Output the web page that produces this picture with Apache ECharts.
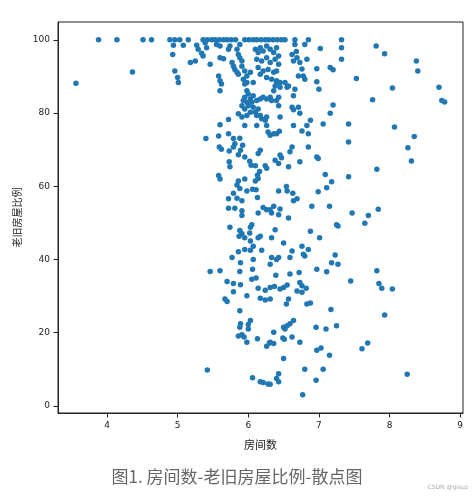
<!DOCTYPE html>
<html><head><meta charset="utf-8">
<script src="https://cdn.jsdelivr.net/npm/echarts@6/dist/echarts.min.js"></script>
<style>html,body{margin:0;padding:0;background:#fff}#c{width:474px;height:496px}</style>
</head><body><div id="c"></div><script>
const xTicks = [4, 5, 6, 7, 8, 9];
const yTicks = [0, 20, 40, 60, 80, 100];
const xRange = [3.306, 9.04];
const yRange = [-1.955, 104.855];
const xName = '房间数';
const yName = '老旧房屋比例';
const caption = '图1. 房间数-老旧房屋比例-散点图';

// [rooms, age] pairs, grouped by region of the plot
const leftOutliers = [[3.56,88.1],[3.88,100],[4.14,100],[4.36,91.2],[4.51,100],[4.63,100]];
const ageFull = [[4.89,100],[4.96,100],[5.03,100],[5.15,100],[5.36,100],[5.42,100],[5.48,100],[5.53,100],[5.59,100],[5.65,100],[5.70,100],[5.76,100],[5.82,100],[5.95,100],[6.01,100],[6.07,100],[6.12,100],[6.18,100],[6.24,100],[6.29,100],[6.35,100],[6.41,100],[6.47,100],[6.52,100],[6.66,100],[6.85,100],[7.32,100]];
const topLeft = [[4.94,98.5],[5.08,98.5],[4.93,96.0],[4.96,91.5],[5.0,89.7],[5.01,88.3],[5.18,93.8],[5.25,94.2],[5.27,98.5],[5.29,97.4],[5.34,96.3],[5.36,95.6],[5.39,99.2],[5.41,97.8],[5.46,93.3],[5.55,98.7],[5.60,98.3],[5.60,95.1],[5.65,94.8],[5.58,90.1],[5.60,88.8],[5.62,87.9],[5.60,86.1],[5.72,97.4],[5.74,98.3],[5.77,93.8],[5.79,92.8],[5.81,91.9],[5.84,91.1],[5.86,90.6],[5.84,97.4],[5.86,96.0],[5.88,95.1],[5.91,94.2],[5.88,98.7],[5.91,92.8],[5.95,91.5],[5.98,90.1],[5.93,89.2],[5.98,88.3],[5.95,87.9],[6.03,91.1]];
const topCluster = [[5.98,86.1],[6.00,85.2],[5.95,84.3],[6.03,83.8],[5.98,82.9],[6.05,82.9],[6.07,84.7],[5.93,83.4],[6.00,82.0],[6.07,81.6],[5.95,81.1],[6.12,83.4],[6.03,80.2],[6.10,80.2],[6.14,81.1],[5.91,82.0],[6.26,83.8],[6.31,84.3],[6.40,83.4],[6.43,82.0],[5.86,79.8],[5.91,78.9],[5.98,79.3],[6.12,79.3],[6.19,78.4],[6.24,78.0],[5.60,76.8],[5.72,78.2],[5.95,76.6],[6.12,76.6],[6.26,76.6],[6.45,78.9],[6.10,97.4],[6.14,96.5],[6.17,97.8],[6.21,96.9],[6.26,98.3],[6.31,97.4],[6.36,96.5],[6.40,97.8],[6.43,95.6],[6.12,94.7],[6.19,94.2],[6.26,95.1],[6.31,93.8],[6.38,94.7],[6.43,93.3],[6.14,92.4],[6.21,91.5],[6.28,91.9],[6.36,91.1],[6.17,90.6],[6.40,91.5],[6.26,89.7],[6.33,89.2],[6.40,88.3],[6.45,87.0],[6.07,88.3]];
const topRight = [[6.66,98.7],[6.68,96.8],[6.80,98.7],[7.02,97.6],[7.32,97.8],[7.32,94.7],[7.81,98.3],[7.93,96.2],[8.38,94.2],[8.40,91.5],[8.70,87.0],[8.74,83.4],[8.78,83.0],[7.53,89.4],[8.04,86.8],[7.76,83.6],[8.07,76.2],[8.35,73.6],[8.26,70.5],[7.42,77.0],[7.42,72.1],[7.06,77.0],[7.16,79.9],[7.20,82.2],[7.0,86.5],[6.97,88.5],[6.97,92.1],[7.16,92.4],[7.20,91.8],[6.83,94.7],[6.73,93.8],[6.76,92.0],[6.69,95.1],[6.62,96.0],[6.64,94.2],[6.78,90.1],[6.80,89.2],[6.71,90.1],[6.40,88.8],[6.45,88.3],[6.38,87.4],[6.52,88.3],[6.36,86.1],[6.33,83.4],[6.21,84.3],[6.17,83.8],[6.43,84.3],[6.55,87.0],[6.57,87.4],[6.66,86.5],[6.64,84.7],[6.62,81.6],[6.64,80.9],[6.71,81.6],[6.73,79.9],[6.26,78.9],[6.17,79.3],[6.64,76.6],[6.83,76.6],[6.88,78.0],[6.28,74.8],[6.31,73.9],[6.36,74.3],[6.76,75.1],[6.85,74.3],[6.62,70.7],[6.59,69.4],[6.45,68.5],[6.85,70.7],[6.97,68.0]];
const midRight = [[6.40,74.3],[6.44,75.0],[6.38,67.1],[6.43,66.2],[6.47,67.8],[6.73,66.7],[6.99,67.6],[6.57,65.3],[7.42,62.6],[7.09,63.2],[7.18,61.2],[7.11,59.6],[6.99,58.5],[6.43,58.7],[6.54,59.9],[6.55,58.7],[6.63,58.1],[6.69,56.6],[6.64,56.0],[6.36,54.5],[6.45,53.8],[6.33,52.7],[6.43,52.2],[6.31,53.6],[6.90,54.5],[7.15,54.5],[6.57,51.3],[7.47,52.7],[7.70,52.0],[7.65,49.9],[7.25,49.5],[7.27,49.1],[6.38,48.1],[6.33,45.9],[6.88,47.7],[7.01,45.9],[6.50,44.5],[6.76,43.6],[6.85,42.7],[6.78,41.4],[6.80,40.9],[6.62,42.3],[6.59,40.5],[6.43,40.5],[7.23,41.2],[7.18,39.1],[7.27,38.7],[6.31,38.7],[6.33,40.5]];
const lowRight = [[6.39,35.7],[6.59,36.0],[6.72,36.4],[6.97,37.3],[7.11,36.6],[7.45,34.1],[6.31,32.3],[6.37,32.6],[6.45,31.9],[6.50,32.3],[6.55,33.0],[6.69,31.4],[6.73,33.7],[6.76,32.8],[6.82,32.1],[6.76,31.0],[6.31,29.2],[6.54,27.8],[6.57,29.2],[6.83,27.8],[6.88,28.1],[7.17,26.3],[6.50,21.5],[6.55,21.9],[6.59,22.4],[6.64,23.3],[6.52,21.0],[6.36,20.1],[6.31,17.4],[6.36,17.0],[6.49,18.5],[6.51,18.2],[6.62,18.8],[6.73,17.4],[6.96,21.5],[7.10,21.0],[7.25,21.9],[6.97,15.2],[7.03,15.8],[7.15,13.8],[7.61,15.6],[7.69,17.2],[6.50,12.9],[6.80,10.0],[7.06,10.0],[6.43,8.8],[6.40,7.5],[6.43,6.6],[6.31,5.9],[6.96,7.0],[6.77,3.0]];
const farRight = [[8.31,66.9],[7.82,64.6],[7.84,53.7],[7.82,36.9],[7.85,33.4],[7.89,32.1],[8.04,31.9],[7.93,24.8],[8.25,8.6]];
const midLeft = [[5.40,73.0],[5.58,73.7],[5.72,74.3],[5.79,73.0],[5.88,73.1],[5.59,70.7],[5.62,70.1],[5.73,69.6],[5.81,71.6],[5.79,70.7],[5.92,71.2],[5.86,68.6],[5.89,69.8],[5.95,68.0],[6.14,68.9],[6.17,69.8],[5.73,66.7],[5.74,65.3],[6.02,66.8],[6.04,65.7],[6.10,65.6],[6.24,65.6],[6.26,64.9],[5.58,62.9],[5.60,62.0],[5.86,61.4],[5.95,62.0],[6.13,63.0],[6.14,62.1],[6.10,61.4],[6.16,64.0],[5.84,60.3],[5.88,59.4],[5.98,58.7],[6.06,59.2],[6.11,59.0],[5.79,58.1],[5.84,56.7],[5.91,56.0],[5.72,56.6],[6.13,56.9],[5.72,54.0],[5.81,54.0],[5.91,53.3],[5.91,52.0],[6.14,52.7],[6.21,54.2],[6.26,53.6],[5.74,48.8],[6.05,49.5],[6.03,48.8]];
const lowLeft = [[5.88,47.9],[5.91,47.0],[6.02,47.2],[5.87,46.3],[5.95,45.9],[6.03,45.0],[6.17,46.3],[6.14,45.9],[6.07,43.6],[5.95,42.7],[5.86,42.1],[6.03,42.5],[6.19,42.5],[5.77,40.5],[5.89,39.1],[6.07,40.0],[5.46,36.7],[5.60,36.9],[5.88,36.7],[6.06,37.3],[6.40,40.0],[6.05,34.6],[6.11,34.9],[5.70,34.0],[5.79,33.4],[5.89,33.1],[6.14,32.1],[6.24,31.6],[5.79,31.2],[5.98,30.1],[5.67,29.2],[5.70,28.5],[6.17,29.4],[6.24,28.9],[5.88,26.0],[5.89,22.4],[6.03,23.3],[6.00,22.2],[5.88,21.5],[6.00,21.0],[5.86,19.1],[5.91,19.4],[5.94,18.8],[5.98,17.4],[6.13,18.3],[6.26,16.3],[6.30,17.2],[5.42,9.8],[6.06,7.7],[6.17,6.6],[6.21,6.4],[6.28,6.0]];

const points = [].concat(leftOutliers, ageFull, topLeft, topCluster, topRight, midRight, lowRight, farRight, midLeft, lowLeft);

const chart = echarts.init(document.getElementById('c'), null, {renderer: 'canvas'});
const axisColor = '#222';
chart.setOption({
  animation: false,
  backgroundColor: '#fff',
  grid: {left: 58, right: 11, top: 22, bottom: 83, show: true, borderColor: axisColor, borderWidth: 1, backgroundColor: 'transparent'},
  xAxis: {
    type: 'value', min: xRange[0], max: xRange[1],
    name: xName, nameLocation: 'middle', nameGap: 26,
    nameTextStyle: {fontSize: 11, color: axisColor, fontFamily: 'Noto Sans CJK SC'},
    axisLine: {show: true, onZero: false, lineStyle: {color: axisColor}},
    axisTick: {show: true, length: 4.5, customValues: xTicks, lineStyle: {color: axisColor}},
    axisLabel: {customValues: xTicks, fontSize: 9, color: axisColor, margin: 8, fontFamily: 'DejaVu Sans'},
    splitLine: {show: false}
  },
  yAxis: {
    type: 'value', min: yRange[0], max: yRange[1],
    name: yName, nameLocation: 'middle', nameGap: 28, nameRotate: 90,
    nameTextStyle: {fontSize: 10, color: axisColor, fontFamily: 'Noto Sans CJK SC'},
    axisLine: {show: true, onZero: false, lineStyle: {color: axisColor}},
    axisTick: {show: true, length: 4.5, customValues: yTicks, lineStyle: {color: axisColor}},
    axisLabel: {customValues: yTicks, fontSize: 9, color: axisColor, margin: 8, fontFamily: 'DejaVu Sans'},
    splitLine: {show: false}
  },
  series: [{
    type: 'scatter', data: points, symbolSize: 5.5,
    itemStyle: {color: '#1f77b4', opacity: 1}
  }],
  graphic: [
    {type: 'text', left: 'center', top: 468, style: {text: caption, fontSize: 17, fill: '#666', fontFamily: 'Noto Sans CJK SC'}},
    {type: 'text', right: 6, top: 484, style: {text: 'CSDN @gisuz', fontSize: 6, fill: '#aaa', fontFamily: 'DejaVu Sans'}}
  ]
});
</script></body></html>
